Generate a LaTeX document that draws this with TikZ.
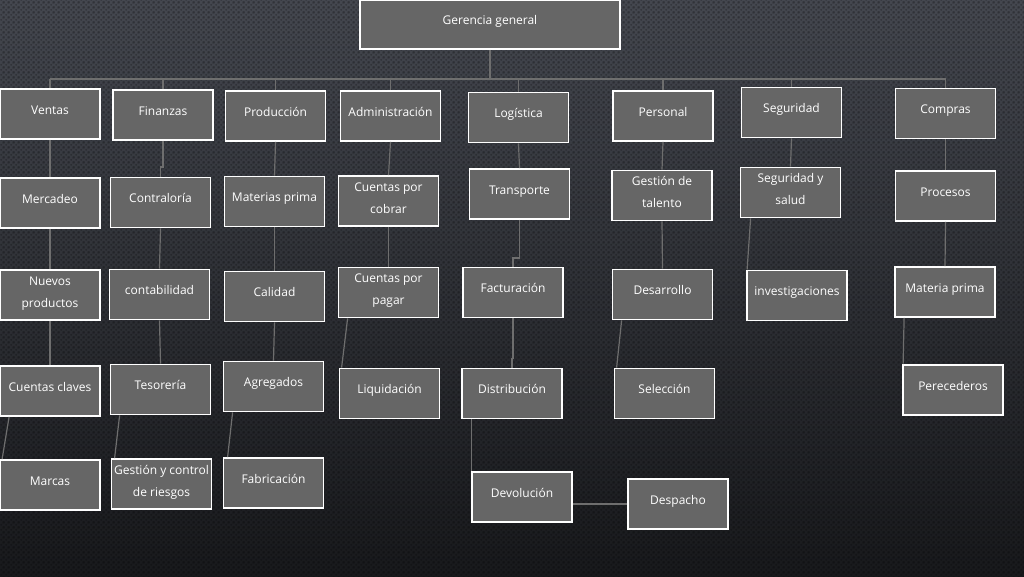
\documentclass[tikz,border=0pt]{standalone}
\usepackage{fontspec}
\setmainfont{Open Sans}
\usetikzlibrary{calc,patterns.meta}
\definecolor{bgtop}{HTML}{44474F}
\definecolor{bgbot}{HTML}{18191C}
\definecolor{boxfill}{HTML}{666666}
\definecolor{linkc}{HTML}{6E6E6E}
\newcommand\twol[2]{\begin{tabular}{@{}c@{}}#1\\#2\end{tabular}}
\tikzdeclarepattern{name=bgdots, type=uncolored,
  bounding box={(0pt,0pt) and (5pt,5pt)}, tile size={(5pt,5pt)},
  code={\fill (0pt,0pt) circle (1.1pt); \fill (2.5pt,2.5pt) circle (1.1pt);
        \fill (5pt,0pt) circle (1.1pt); \fill (0pt,5pt) circle (1.1pt); \fill (5pt,5pt) circle (1.1pt);}}
\begin{document}
\begin{tikzpicture}[x=1pt,y=-1pt,
  box/.style={draw=white, line width=1.8pt, fill=boxfill, minimum width=100pt,
    minimum height=50pt, inner sep=0pt, text=white,
    font=\fontsize{12}{22}\selectfont, text height=9pt, text depth=9pt},
  link/.style={draw=linkc, line width=1.2pt}]
\useasboundingbox (0,0) rectangle (1024,576);
\shade[top color=bgtop, bottom color=bgbot] (0,0) rectangle (1024,576);
\fill[pattern={bgdots}, pattern color=black, opacity=0.3] (0,0) rectangle (1024,576);
% boxes
\node[box, minimum width=260pt, minimum height=49pt] (ger) at (490,24.5) {Gerencia general};
% row 1
\node[box] (ventas) at (50,114) {Ventas};
\node[box] (finanzas) at (163,115) {Finanzas};
\node[box] (produccion) at (275.5,116) {Producción};
\node[box] (admin) at (390.5,116) {Administración};
\node[box] (logistica) at (518.5,117.5) {Logística};
\node[box] (personal) at (663,116) {Personal};
\node[box] (seguridad) at (791.5,112.5) {Seguridad};
\node[box] (compras) at (945.5,113.5) {Compras};
% row 2
\node[box] (mercadeo) at (50,203) {Mercadeo};
\node[box] (contraloria) at (160.5,202.5) {Contraloría};
\node[box] (materias) at (274.5,201.5) {Materias prima};
\node[box] (cobrar) at (388.5,201) {\twol{Cuentas por}{cobrar}};
\node[box] (transporte) at (519.5,194) {Transporte};
\node[box] (gestion) at (662,195.5) {\twol{Gestión de}{talento}};
\node[box] (segsalud) at (790.5,192.5) {\twol{Seguridad y}{salud}};
\node[box] (procesos) at (945.5,196) {Procesos};
% row 3
\node[box] (nuevos) at (50,295) {\twol{Nuevos}{productos}};
\node[box] (contab) at (159.5,294.5) {contabilidad};
\node[box] (calidad) at (274.5,296.5) {Calidad};
\node[box] (pagar) at (388.5,292.5) {\twol{Cuentas por}{pagar}};
\node[box] (factur) at (513,292.5) {Facturación};
\node[box] (desarrollo) at (662.5,294.5) {Desarrollo};
\node[box] (investig) at (797,295.5) {investigaciones};
\node[box] (materiap) at (945,292) {Materia prima};
% row 4
\node[box] (claves) at (50,391) {Cuentas claves};
\node[box] (tesoreria) at (160.5,389.5) {Tesorería};
\node[box] (agregados) at (273.5,386.5) {Agregados};
\node[box] (liquidacion) at (389.5,393.5) {Liquidación};
\node[box] (distrib) at (512,393.5) {Distribución};
\node[box] (seleccion) at (664.5,393.5) {Selección};
\node[box] (perecederos) at (953,390) {Perecederos};
% row 5
\node[box] (marcas) at (50,485) {Marcas};
\node[box] (riesgos) at (161.5,484) {\twol{Gestión y control}{de riesgos}};
\node[box] (fabricacion) at (273.5,483) {Fabricación};
\node[box] (devolucion) at (522,497) {Devolución};
\node[box] (despacho) at (678,504) {Despacho};
% bus
\coordinate (busL) at (50,79);
\coordinate (busR) at (946,79);
\draw[link] (busL) -- (busR);
\draw[link] (ger.south) -- (ger.south |- busL);
\foreach \n in {ventas,finanzas,produccion,admin,logistica,personal,seguridad,compras}
  \draw[link] (\n.north |- busL) -- (\n.north);
% vertical chains
\draw[link] (ventas.south) -- (mercadeo.north);
\draw[link] (mercadeo.south) -- (nuevos.north);
\draw[link] (nuevos.south) -- (claves.north);
\draw[link] (finanzas.south) -- ++(0,26) -| (contraloria.north);
\draw[link] (contraloria.south) -- (contab.north);
\draw[link] (contab.south) -- (tesoreria.north);
\draw[link] (produccion.south) -- (materias.north);
\draw[link] (materias.south) -- (calidad.north);
\draw[link] (calidad.south) -- (agregados.north);
\draw[link] (admin.south) -- (cobrar.north);
\draw[link] (cobrar.south) -- (pagar.north);
\draw[link] (logistica.south) -- (transporte.north);
\draw[link] (transporte.south) -- ++(0,38) -| (factur.north);
\draw[link] (factur.south) -- ++(0,40) -| (distrib.north);
\draw[link] (personal.south) -- (gestion.north);
\draw[link] (gestion.south) -- (desarrollo.north);
\draw[link] (seguridad.south) -- (segsalud.north);
\draw[link] (compras.south) -- (procesos.north);
\draw[link] (procesos.south) -- (materiap.north);
% offset links
\draw[link] ($(claves.south west)+(10,0)$) -- ($(marcas.north west)+(3,0)$);
\draw[link] ($(tesoreria.south west)+(10,0)$) -- ($(riesgos.north west)+(4,0)$);
\draw[link] ($(agregados.south west)+(10,0)$) -- ($(fabricacion.north west)+(5,0)$);
\draw[link] ($(pagar.south west)+(10,0)$) -- ($(liquidacion.north west)+(3,0)$);
\draw[link] ($(desarrollo.south west)+(10,0)$) -- ($(seleccion.north west)+(3,0)$);
\draw[link] ($(segsalud.south west)+(11,0)$) -- ($(investig.north west)+(1,0)$);
\draw[link] ($(materiap.south west)+(10,0)$) -- ($(perecederos.north west)+(1,0)$);
\draw[link] ($(distrib.south west)+(10,0)$) -- (devolucion.north west);
\draw[link] ($(devolucion.east)+(0,7)$) -- (despacho.west);
\end{tikzpicture}
\end{document}
